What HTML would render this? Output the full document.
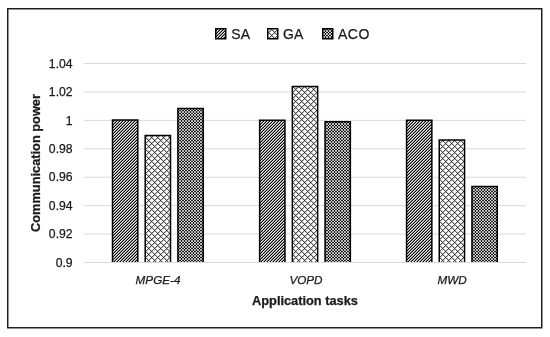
<!DOCTYPE html>
<html>
<head>
<meta charset="utf-8">
<style>
html,body{margin:0;padding:0;background:#fff;}
body{width:550px;height:337px;overflow:hidden;}
svg{display:block;filter:blur(0.3px);}
text{font-family:"Liberation Sans",sans-serif;fill:#1a1a1a;stroke:#1a1a1a;stroke-width:0.25px;}
</style>
</head>
<body>
<svg width="550" height="337" viewBox="0 0 550 337">
<defs>
  <pattern id="pSA" patternUnits="userSpaceOnUse" x="0" y="0" width="3" height="3" shape-rendering="crispEdges"><rect x="0" y="0" width="1" height="1" fill="#000"/><rect x="1" y="0" width="1" height="1" fill="#e8e8e8"/><rect x="2" y="0" width="1" height="1" fill="#8c8c8c"/><rect x="0" y="1" width="1" height="1" fill="#e8e8e8"/><rect x="1" y="1" width="1" height="1" fill="#8c8c8c"/><rect x="2" y="1" width="1" height="1" fill="#000"/><rect x="0" y="2" width="1" height="1" fill="#8c8c8c"/><rect x="1" y="2" width="1" height="1" fill="#000"/><rect x="2" y="2" width="1" height="1" fill="#e8e8e8"/></pattern>
  <pattern id="pGA" patternUnits="userSpaceOnUse" x="0" y="0" width="6" height="6" shape-rendering="crispEdges"><rect x="0" y="0" width="1" height="1" fill="#555"/><rect x="1" y="0" width="1" height="1" fill="#bdbdbd"/><rect x="2" y="0" width="1" height="1" fill="#555"/><rect x="3" y="0" width="1" height="1" fill="#bdbdbd"/><rect x="4" y="0" width="1" height="1" fill="#fff"/><rect x="5" y="0" width="1" height="1" fill="#fff"/><rect x="0" y="1" width="1" height="1" fill="#bdbdbd"/><rect x="1" y="1" width="1" height="1" fill="#fff"/><rect x="2" y="1" width="1" height="1" fill="#fff"/><rect x="3" y="1" width="1" height="1" fill="#555"/><rect x="4" y="1" width="1" height="1" fill="#bdbdbd"/><rect x="5" y="1" width="1" height="1" fill="#555"/><rect x="0" y="2" width="1" height="1" fill="#fff"/><rect x="1" y="2" width="1" height="1" fill="#fff"/><rect x="2" y="2" width="1" height="1" fill="#fff"/><rect x="3" y="2" width="1" height="1" fill="#fff"/><rect x="4" y="2" width="1" height="1" fill="#262626"/><rect x="5" y="2" width="1" height="1" fill="#bdbdbd"/><rect x="0" y="3" width="1" height="1" fill="#bdbdbd"/><rect x="1" y="3" width="1" height="1" fill="#fff"/><rect x="2" y="3" width="1" height="1" fill="#fff"/><rect x="3" y="3" width="1" height="1" fill="#555"/><rect x="4" y="3" width="1" height="1" fill="#bdbdbd"/><rect x="5" y="3" width="1" height="1" fill="#555"/><rect x="0" y="4" width="1" height="1" fill="#555"/><rect x="1" y="4" width="1" height="1" fill="#bdbdbd"/><rect x="2" y="4" width="1" height="1" fill="#555"/><rect x="3" y="4" width="1" height="1" fill="#bdbdbd"/><rect x="4" y="4" width="1" height="1" fill="#fff"/><rect x="5" y="4" width="1" height="1" fill="#fff"/><rect x="0" y="5" width="1" height="1" fill="#fff"/><rect x="1" y="5" width="1" height="1" fill="#262626"/><rect x="2" y="5" width="1" height="1" fill="#bdbdbd"/><rect x="3" y="5" width="1" height="1" fill="#fff"/><rect x="4" y="5" width="1" height="1" fill="#fff"/><rect x="5" y="5" width="1" height="1" fill="#fff"/></pattern>
  <pattern id="pACO" patternUnits="userSpaceOnUse" x="0" y="0" width="3" height="3" shape-rendering="crispEdges"><rect x="0" y="0" width="1" height="1" fill="#b4b4b4"/><rect x="1" y="0" width="1" height="1" fill="#1c1c1c"/><rect x="2" y="0" width="1" height="1" fill="#b4b4b4"/><rect x="0" y="1" width="1" height="1" fill="#b4b4b4"/><rect x="1" y="1" width="1" height="1" fill="#1c1c1c"/><rect x="2" y="1" width="1" height="1" fill="#b4b4b4"/><rect x="0" y="2" width="1" height="1" fill="#1c1c1c"/><rect x="1" y="2" width="1" height="1" fill="#fff"/><rect x="2" y="2" width="1" height="1" fill="#1c1c1c"/></pattern>
</defs>
<rect x="0" y="0" width="550" height="337" fill="#fff"/>
<!-- outer border -->
<rect x="7.75" y="8.75" width="534" height="319" fill="none" stroke="#1a1a1a" stroke-width="1.45"/>

<!-- gridlines -->
<g stroke="#d9d9d9" stroke-width="1">
  <line x1="84" x2="526" y1="63.50" y2="63.50"/>
  <line x1="84" x2="526" y1="91.93" y2="91.93"/>
  <line x1="84" x2="526" y1="120.36" y2="120.36"/>
  <line x1="84" x2="526" y1="148.79" y2="148.79"/>
  <line x1="84" x2="526" y1="177.21" y2="177.21"/>
  <line x1="84" x2="526" y1="205.64" y2="205.64"/>
  <line x1="84" x2="526" y1="234.07" y2="234.07"/>
  <line x1="84" x2="526" y1="262.50" y2="262.50"/>
</g>

<!-- y tick labels -->
<g font-size="12.2" text-anchor="end">
  <text x="72.6" y="67.70">1.04</text>
  <text x="72.6" y="96.13">1.02</text>
  <text x="72.6" y="124.56">1</text>
  <text x="72.6" y="152.99">0.98</text>
  <text x="72.6" y="181.41">0.96</text>
  <text x="72.6" y="209.84">0.94</text>
  <text x="72.6" y="238.27">0.92</text>
  <text x="72.6" y="266.70">0.9</text>
</g>

<!-- bars -->
<g>
  <rect x="112.50" y="120.00" width="25.3" height="142.50" fill="url(#pSA)"/>
  <rect x="145.20" y="135.50" width="25.3" height="127.00" fill="url(#pGA)"/>
  <rect x="177.90" y="108.60" width="25.3" height="153.90" fill="url(#pACO)"/>
  <rect x="259.65" y="120.20" width="25.3" height="142.30" fill="url(#pSA)"/>
  <rect x="292.35" y="86.40" width="25.3" height="176.10" fill="url(#pGA)"/>
  <rect x="325.05" y="121.70" width="25.3" height="140.80" fill="url(#pACO)"/>
  <rect x="406.55" y="120.20" width="25.3" height="142.30" fill="url(#pSA)"/>
  <rect x="439.25" y="140.00" width="25.3" height="122.50" fill="url(#pGA)"/>
  <rect x="471.95" y="186.60" width="25.3" height="75.90" fill="url(#pACO)"/>
  </g><g fill="none" stroke="#000" stroke-width="1.5">
  <path d="M112.50 262.5 V120.00 H137.80 V262.5"/>
  <path d="M145.20 262.5 V135.50 H170.50 V262.5"/>
  <path d="M177.90 262.5 V108.60 H203.20 V262.5"/>
  <path d="M259.65 262.5 V120.20 H284.95 V262.5"/>
  <path d="M292.35 262.5 V86.40 H317.65 V262.5"/>
  <path d="M325.05 262.5 V121.70 H350.35 V262.5"/>
  <path d="M406.55 262.5 V120.20 H431.85 V262.5"/>
  <path d="M439.25 262.5 V140.00 H464.55 V262.5"/>
  <path d="M471.95 262.5 V186.60 H497.25 V262.5"/>
</g>

<line x1="84" x2="526" y1="262.5" y2="262.5" stroke="#d9d9d9" stroke-width="1"/>
<!-- category labels -->
<g font-size="11.7" font-style="italic" text-anchor="middle">
  <text x="158" y="284">MPGE-4</text>
  <text x="306" y="284">VOPD</text>
  <text x="452" y="284">MWD</text>
</g>

<!-- axis titles -->
<text x="305" y="305.3" font-size="12.8" font-weight="bold" text-anchor="middle">Application tasks</text>
<text transform="translate(40.2,163) rotate(-90)" x="0" y="0" font-size="12.8" font-weight="bold" text-anchor="middle">Communication power</text>

<!-- legend -->
<g stroke="#000" stroke-width="1.5">
  <rect x="215.75" y="28.75" width="10" height="10" fill="url(#pSA)"/>
  <rect x="267.75" y="28.75" width="10" height="10" fill="url(#pGA)"/>
  <rect x="322.75" y="28.75" width="10" height="10" fill="url(#pACO)"/>
</g>
<g font-size="14" style="stroke-width:0.55px">
  <text x="231.3" y="38.9">SA</text>
  <text x="283" y="38.9">GA</text>
  <text x="337.9" y="38.9" letter-spacing="0.6">ACO</text>
</g>
</svg>
</body>
</html>
